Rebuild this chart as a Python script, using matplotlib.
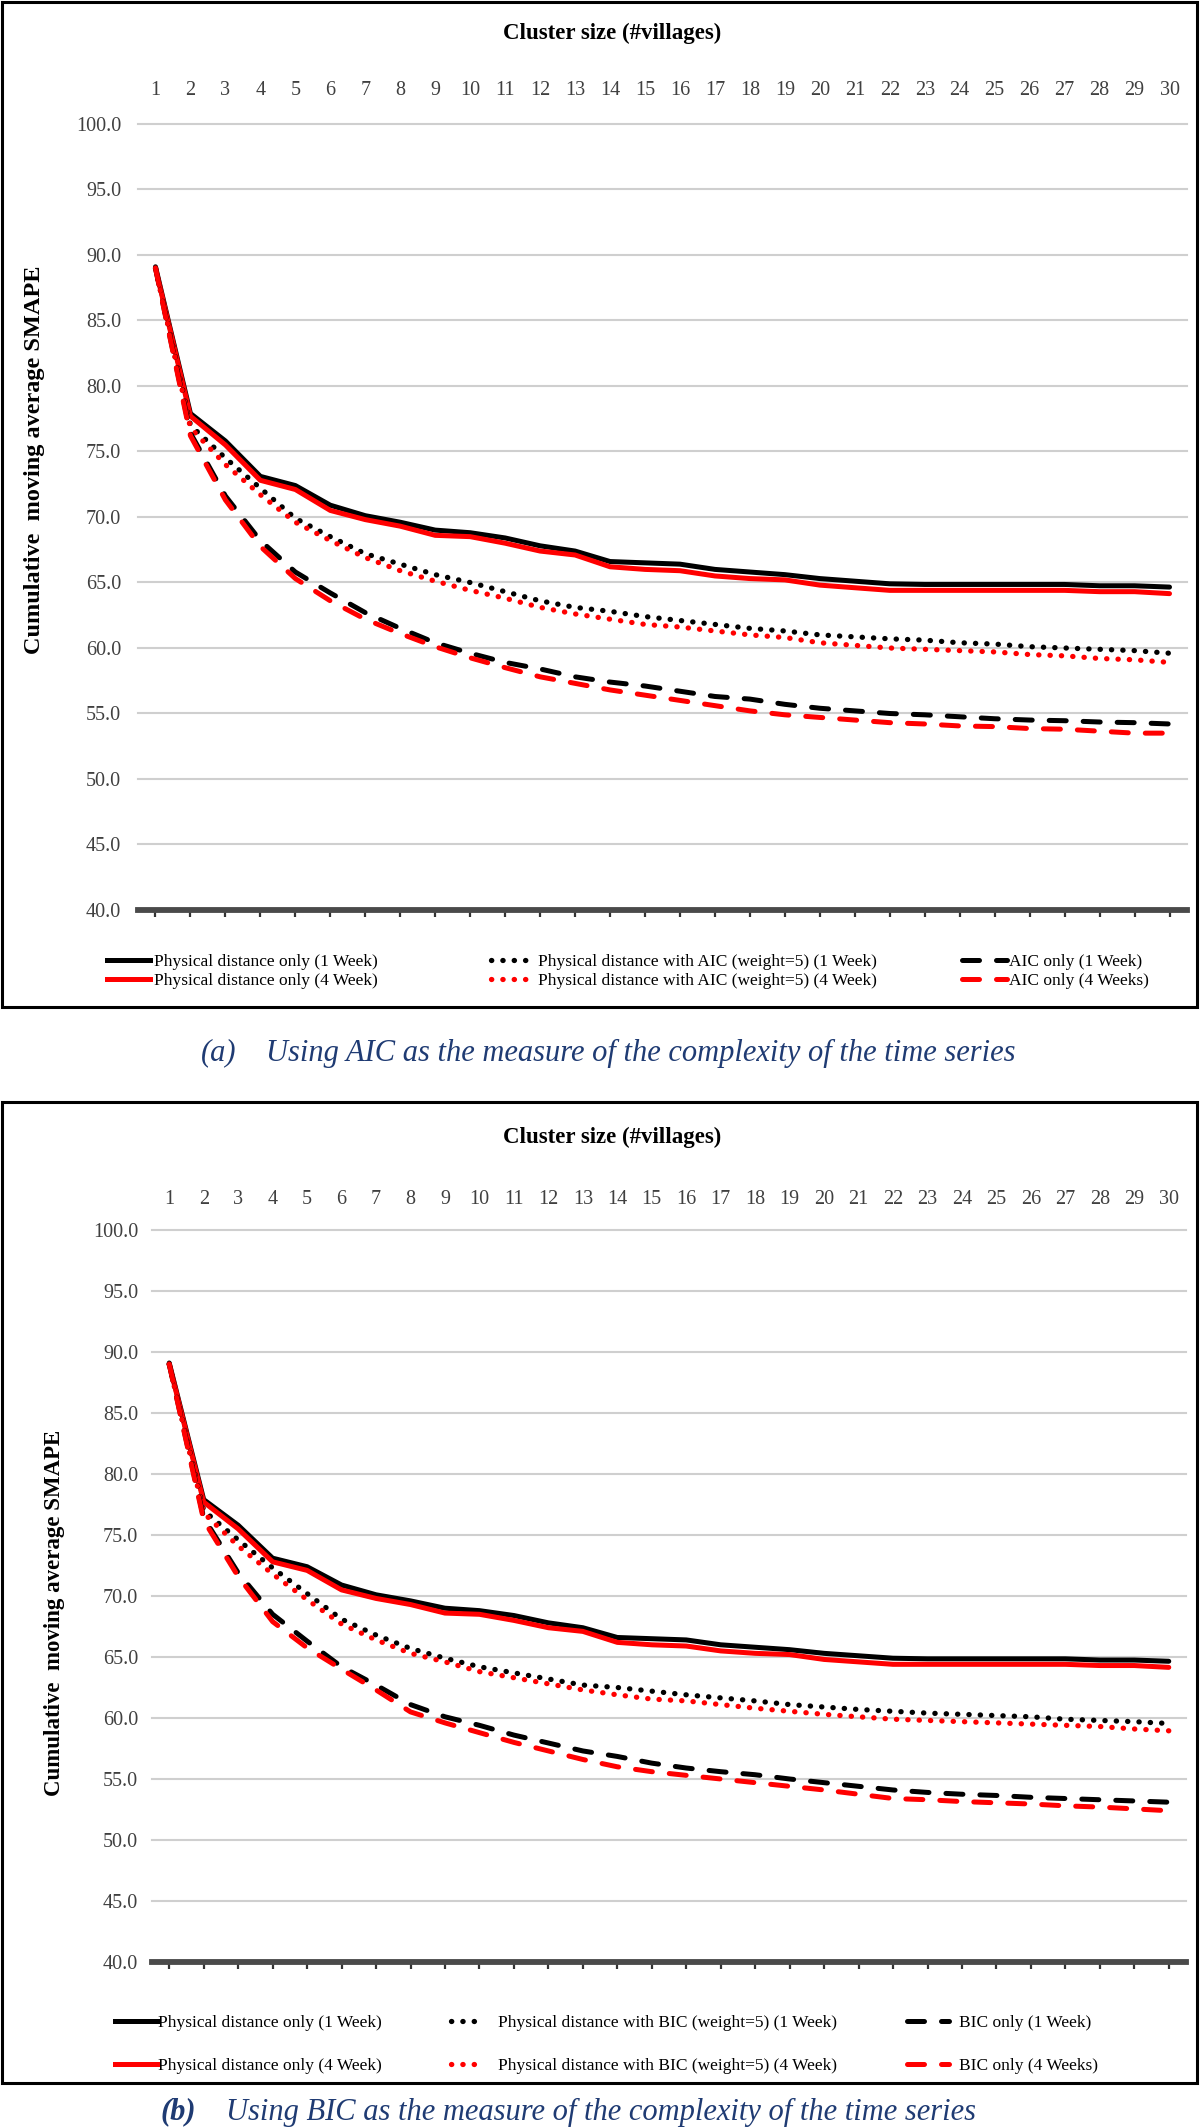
import matplotlib
matplotlib.use('Agg')
import matplotlib.pyplot as plt
from matplotlib.lines import Line2D
from matplotlib.patches import Rectangle

W, H = 1200, 2128
SERIF = ['Liberation Serif', 'DejaVu Serif']

# ---- data ----
cluster_size = list(range(1, 31))
y_ticks = [40, 45, 50, 55, 60, 65, 70, 75, 80, 85, 90, 95, 100]

# physical distance only (same in both panels)
phys_1w = [89.1, 77.9, 75.8, 73.1, 72.4, 70.9, 70.1, 69.6, 69.0, 68.8,
           68.4, 67.8, 67.4, 66.6, 66.5, 66.4, 66.0, 65.8, 65.6, 65.3,
           65.1, 64.9, 64.85, 64.85, 64.85, 64.85, 64.85, 64.75, 64.75, 64.65]
phys_4w = [89.0, 77.7, 75.5, 72.8, 72.1, 70.5, 69.8, 69.3, 68.6, 68.5,
           68.0, 67.4, 67.1, 66.2, 66.0, 65.9, 65.5, 65.3, 65.2, 64.8,
           64.6, 64.4, 64.4, 64.4, 64.4, 64.4, 64.4, 64.3, 64.3, 64.15]

# (a) AIC
aic_w5_1w = [89.0, 77.0, 74.5, 72.2, 69.9, 68.5, 67.2, 66.4, 65.6, 65.0,
             64.3, 63.6, 63.1, 62.8, 62.4, 62.1, 61.8, 61.5, 61.3, 61.0,
             60.85, 60.7, 60.6, 60.4, 60.3, 60.1, 60.0, 59.9, 59.8, 59.6]
aic_w5_4w = [89.0, 76.8, 74.0, 71.7, 69.6, 68.2, 66.9, 65.9, 65.1, 64.4,
             63.8, 63.1, 62.6, 62.2, 61.8, 61.6, 61.3, 61.0, 60.8, 60.4,
             60.2, 60.0, 59.9, 59.8, 59.7, 59.5, 59.4, 59.2, 59.1, 58.9]
aic_1w = [89.0, 76.4, 71.6, 68.2, 65.8, 64.2, 62.7, 61.5, 60.4, 59.6,
          58.9, 58.4, 57.8, 57.4, 57.1, 56.7, 56.3, 56.1, 55.7, 55.4,
          55.2, 55.0, 54.9, 54.75, 54.6, 54.5, 54.45, 54.35, 54.3, 54.2]
aic_4w = [89.0, 76.2, 71.3, 67.75, 65.3, 63.6, 62.2, 61.1, 60.1, 59.25,
          58.5, 57.8, 57.3, 56.8, 56.4, 56.0, 55.6, 55.2, 54.9, 54.7,
          54.5, 54.3, 54.2, 54.05, 54.0, 53.85, 53.8, 53.65, 53.5, 53.5]

# (b) BIC
bic_w5_1w = [89.0, 77.0, 74.6, 72.3, 70.2, 68.1, 66.8, 65.7, 64.9, 64.2,
             63.7, 63.2, 62.7, 62.5, 62.2, 61.9, 61.65, 61.4, 61.1, 60.9,
             60.7, 60.55, 60.4, 60.3, 60.2, 60.1, 59.9, 59.8, 59.7, 59.55]
bic_w5_4w = [89.0, 76.8, 74.1, 71.8, 69.7, 67.7, 66.4, 65.3, 64.6, 63.8,
             63.3, 62.8, 62.3, 61.9, 61.55, 61.4, 61.1, 60.8, 60.55, 60.3,
             60.1, 59.9, 59.8, 59.7, 59.6, 59.5, 59.4, 59.3, 59.1, 58.95]
bic_1w = [89.0, 76.4, 71.9, 68.5, 66.3, 64.2, 62.7, 61.1, 60.1, 59.4,
          58.6, 57.95, 57.3, 56.85, 56.3, 55.9, 55.6, 55.35, 55.0, 54.7,
          54.4, 54.1, 53.9, 53.75, 53.65, 53.5, 53.4, 53.3, 53.2, 53.1]
bic_4w = [89.0, 76.2, 71.6, 67.9, 65.75, 64.0, 62.3, 60.5, 59.6, 58.8,
          58.0, 57.3, 56.6, 56.0, 55.6, 55.3, 55.0, 54.7, 54.4, 54.1,
          53.75, 53.4, 53.3, 53.15, 53.05, 52.95, 52.8, 52.7, 52.55, 52.4]


def fx(x):
    return x / W


def fy(y):
    return 1 - y / H


# line styles: (color, linestyle, linewidth)
DOT = (0, (0.05, 2.1))
DASH = (0, (3.4, 3.4))
styles = [
    ('black', '-', 3.6),
    ('red', '-', 3.6),
    ('black', DOT, 3.8),
    ('red', DOT, 3.8),
    ('black', DASH, 3.6),
    ('red', DASH, 3.6),
]


def make_line(ax, x, y, st, **kw):
    color, ls, lw = st
    ln, = ax.plot(x, y, color=color, linestyle=ls, linewidth=lw,
                  dash_capstyle='round', solid_capstyle='round', **kw)
    return ln


def draw_panel(box, series, labels, lab_pad, tick_pad, title_y, ylab_xy, ylab_size,
               leg_y, leg_cols, leg_space, frame):
    # frame around the panel
    l, t, r, b = frame
    fig.add_artist(Rectangle((fx(l), fy(b)), fx(r - l), (b - t) / H,
                             transform=fig.transFigure, fill=False,
                             edgecolor='black', linewidth=2.2))
    ax = fig.add_axes(box)
    for v in y_ticks[1:]:
        ax.axhline(v, color='#cfcfcf', linewidth=1.5, zorder=0, clip_on=False)
    for ys, st in zip(series, styles):
        make_line(ax, cluster_size, ys, st, zorder=3)
    ax.set_xlim(0.5, 30.5)
    ax.set_ylim(40, 100)
    ax.set_yticks(y_ticks)
    ax.set_yticklabels([f'{v:.1f}' for v in y_ticks])
    ax.set_xticks(cluster_size)
    ax.set_xticklabels([str(c) for c in cluster_size])
    for s in ['left', 'right', 'top']:
        ax.spines[s].set_visible(False)
    ax.spines['bottom'].set_color('#4a4a4a')
    ax.spines['bottom'].set_linewidth(4.2)
    ax.tick_params(axis='x', bottom=True, top=False, labelbottom=False, labeltop=True,
                   direction='out', length=5, width=1.6, color='#333333',
                   pad=lab_pad, labelsize=14.5, labelcolor='#404040')
    ax.tick_params(axis='y', length=0, pad=tick_pad, labelsize=14.5, labelcolor='#404040')
    for lab in ax.get_xticklabels() + ax.get_yticklabels():
        lab.set_family(SERIF)
    fig.text(fx(612), fy(title_y), 'Cluster size (#villages)', ha='center', va='center',
             fontsize=16.5, fontweight='bold', family=SERIF)
    fig.text(fx(ylab_xy[0]), fy(ylab_xy[1]), 'Cumulative  moving average SMAPE',
             rotation=90, ha='center', va='center', fontsize=ylab_size,
             fontweight='bold', family=SERIF)

    # legend: three columns, 1 Week on top row, 4 Week on bottom row
    for k, (hx, hlen, tpad) in enumerate(leg_cols):
        hs = []
        for st in styles[2 * k:2 * k + 2]:
            color, ls, lw = st
            hs.append(Line2D([], [], color=color, linestyle=ls, linewidth=lw,
                             dash_capstyle='round'))
        fig.legend(hs, labels[2 * k:2 * k + 2], loc='center left',
                   bbox_to_anchor=(fx(hx), fy(leg_y)), frameon=False,
                   borderpad=0, borderaxespad=0, handlelength=hlen,
                   handletextpad=tpad, labelspacing=leg_space,
                   prop={'family': SERIF, 'size': 12.5})
    return ax


fig = plt.figure(figsize=(W / 100, H / 100), dpi=100)

labels_a = ['Physical distance only (1 Week)', 'Physical distance only (4 Week)',
            'Physical distance with AIC (weight=5) (1 Week)',
            'Physical distance with AIC (weight=5) (4 Week)',
            'AIC only (1 Week)', 'AIC only (4 Weeks)']
labels_b = ['Physical distance only (1 Week)', 'Physical distance only (4 Week)',
            'Physical distance with BIC (weight=5) (1 Week)',
            'Physical distance with BIC (weight=5) (4 Week)',
            'BIC only (1 Week)', 'BIC only (4 Weeks)']

# top panel (a)
draw_panel([fx(138), fy(910), fx(1187 - 138), (910 - 124) / H],
           [phys_1w, phys_4w, aic_w5_1w, aic_w5_4w, aic_1w, aic_4w], labels_a,
           lab_pad=12, tick_pad=12, title_y=33, ylab_xy=(35, 460), ylab_size=17.5,
           leg_y=971.5,
           leg_cols=[(107, 2.5, 0.2), (491, 2.0, 0.7), (962, 2.6, 0.12)],
           leg_space=0.15, frame=(2, 2, 1197, 1007))

# bottom panel (b)
draw_panel([fx(152), fy(1962), fx(1186 - 152), (1962 - 1230) / H],
           [phys_1w, phys_4w, bic_w5_1w, bic_w5_4w, bic_1w, bic_4w], labels_b,
           lab_pad=10, tick_pad=10, title_y=1137, ylab_xy=(55, 1613), ylab_size=16.5,
           leg_y=2044.5,
           leg_cols=[(115, 2.4, 0.05), (451, 1.6, 1.1), (907, 2.4, 0.6)],
           leg_space=1.5, frame=(2, 1102, 1197, 2083))

# captions
cap_color = '#1f3b73'
fig.text(fx(201), fy(1053), '(a)', ha='left', va='center', fontsize=22,
         style='italic', color=cap_color, family=SERIF)
fig.text(fx(266), fy(1053), 'Using AIC as the measure of the complexity of the time series',
         ha='left', va='center', fontsize=22, style='italic', color=cap_color, family=SERIF)
fig.text(fx(161), fy(2112), '(b)', ha='left', va='center', fontsize=22,
         style='italic', fontweight='bold', color=cap_color, family=SERIF)
fig.text(fx(226), fy(2112), 'Using BIC as the measure of the complexity of the time series',
         ha='left', va='center', fontsize=22, style='italic', color=cap_color, family=SERIF)

fig.savefig('out.png', dpi=100)
